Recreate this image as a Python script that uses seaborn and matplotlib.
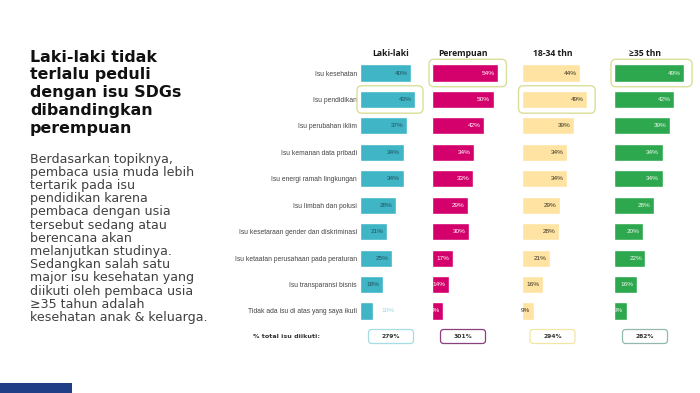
import matplotlib
matplotlib.use('Agg')
import matplotlib.pyplot as plt
from matplotlib.patches import FancyBboxPatch, Rectangle
import seaborn as sns

# data
categories = ['Isu kesehatan', 'Isu pendidikan', 'Isu perubahan iklim',
              'Isu kemanan data pribadi', 'Isu energi ramah lingkungan',
              'Isu limbah dan polusi', 'Isu kesetaraan gender dan diskriminasi',
              'Isu ketaatan perusahaan pada peraturan', 'Isu transparansi bisnis',
              'Tidak ada isu di atas yang saya ikuti']
laki = [40, 43, 37, 34, 34, 28, 21, 25, 18, 10]
perempuan = [54, 50, 42, 34, 33, 29, 30, 17, 14, 9]
usia_muda = [44, 49, 39, 34, 34, 29, 28, 21, 16, 9]
usia_tua = [49, 42, 39, 34, 34, 28, 20, 22, 16, 9]
groups = ['Laki-laki', 'Perempuan', '18-34 thn', '≥35 thn']
totals = ['279%', '301%', '294%', '282%']
highlight_rows = [1, 0, 1, 0]

title_lines = ['Laki-laki tidak', 'terlalu peduli', 'dengan isu SDGs',
               'dibandingkan', 'perempuan']
body_lines = ['Berdasarkan topiknya,', 'pembaca usia muda lebih', 'tertarik pada isu',
              'pendidikan karena', 'pembaca dengan usia', 'tersebut sedang atau',
              'berencana akan', 'melanjutkan studinya.', 'Sedangkan salah satu',
              'major isu kesehatan yang', 'diikuti oleh pembaca usia',
              '≥35 tahun adalah', 'kesehatan anak & keluarga.']

series = [laki, perempuan, usia_muda, usia_tua]
bar_colors = ['#3fb5c5', '#d4006c', '#fee3a2', '#2ea84f']
label_colors = ['#22505c', 'white', '#3a3223', '#eef8ee']
total_edge = ['#a6dde4', '#8c3f7f', '#f2e7a2', '#93b8b2']
hl_color = '#d9df98'

sns.set_theme(style='white')
W, H = 700, 393
fig = plt.figure(figsize=(W / 100, H / 100), dpi=100)

# overlay in pixel coordinates for text and boxes
over = fig.add_axes([0, 0, 1, 1], zorder=5)
over.set_xlim(0, W)
over.set_ylim(H, 0)
over.axis('off')

# panel layout: bar start (px) and px per percent
starts = [360, 432, 521.5, 614]
scales = [1.28, 1.23, 1.34, 1.43]
panel_w = 85
top_px, bot_px = 59.8, 324.2

axes = []
for i, vals in enumerate(series):
    ax = fig.add_axes([starts[i] / W, 1 - bot_px / H, panel_w / W, (bot_px - top_px) / H])
    sns.barplot(x=vals, y=categories, orient='h', color=bar_colors[i],
                saturation=1, width=0.65, ax=ax)
    ax.set_xlim(0, panel_w / scales[i])
    ax.set_ylim(len(categories) - 0.5, -0.5)
    ax.set_xticks([])
    ax.set_xlabel('')
    ax.set_ylabel('')
    sns.despine(ax=ax, left=True, bottom=True)
    ax.tick_params(axis='y', length=0, pad=2.2)
    if i == 0:
        ax.set_yticks(range(len(categories)))
        ax.set_yticklabels(categories, fontsize=4.9, color='#444444',
                           family='Liberation Sans')
    else:
        ax.set_yticklabels([])
    for j, v in enumerate(vals):
        if i == 0 and v < 12:
            ax.annotate(f'{v}%', (v, j), xytext=(6, 0), textcoords='offset points',
                        ha='left', va='center', fontsize=4.6, color='#9ad6de',
                        family='Liberation Sans')
        else:
            ax.annotate(f'{v}%', (v, j), xytext=(-2.5, 0), textcoords='offset points',
                        ha='right', va='center', fontsize=4.6, color=label_colors[i],
                        family='Liberation Sans')
    axes.append(ax)

# headers, highlight boxes, total boxes
fig.canvas.draw()
to_over = over.transData.inverted()
for i, ax in enumerate(axes):
    cx = starts[i] + 31
    over.text(cx, 53, groups[i], ha='center', va='center', fontsize=6.2,
              fontweight='bold', color='#1a1a1a', family=['Open Sans', 'DejaVu Sans'])
    r = highlight_rows[i]
    x0, y0 = to_over.transform(ax.transData.transform((0, r - 0.5)))
    x1, y1 = to_over.transform(ax.transData.transform((series[i][r], r + 0.5)))
    ylo, yhi = min(y0, y1), max(y0, y1)
    over.add_patch(FancyBboxPatch((x0 - 1, ylo + 1.5), (x1 - x0) + 7, (yhi - ylo) - 3,
                                  boxstyle='round,pad=2,rounding_size=5',
                                  fc='none', ec=hl_color, lw=1.0))
    over.add_patch(FancyBboxPatch((cx - 21, 331), 42, 11,
                                  boxstyle='round,pad=1.5,rounding_size=3',
                                  fc='white', ec=total_edge[i], lw=0.9))
    over.text(cx, 336.8, totals[i], ha='center', va='center', fontsize=4.3,
              fontweight='bold', color='#333333')

over.text(253, 336.8, '% total isu diikuti:', ha='left', va='center', fontsize=4.6,
          fontweight='bold', color='#333333')

# left text block
for k, line in enumerate(title_lines):
    over.text(30, 61.5 + k * 17.75, line, ha='left', va='baseline', fontsize=11.4,
              fontweight='bold', color='#111111')
for k, line in enumerate(body_lines):
    over.text(30, 162.7 + k * 13.2, line, ha='left', va='baseline', fontsize=9.1,
              color='#404040')

# footer strip
over.add_patch(Rectangle((0, 383), 72, 10, fc='#1f3e86', ec='none'))

fig.savefig('out.png', dpi=100)
